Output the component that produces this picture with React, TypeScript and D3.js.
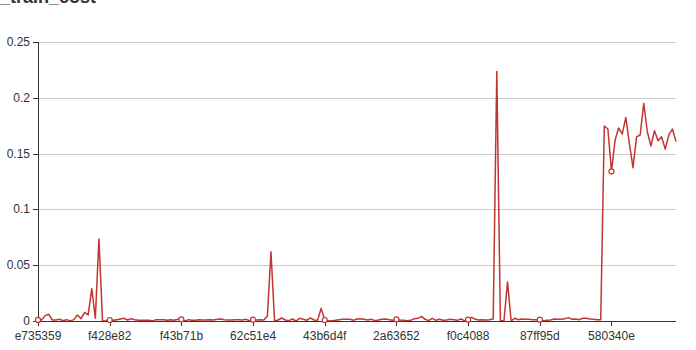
import React from "react";
import * as d3 from "d3";

const titleText = "_train_cost";
const tickLabels = ["e735359", "f428e82", "f43b71b", "62c51e4", "43b6d4f", "2a63652", "f0c4088", "87ff95d", "580340e"];
const labelEvery = 20;
const yTicks = [0, 0.05, 0.1, 0.15, 0.2, 0.25];

const costValues = [
  0.001, 0.0009, 0.0048, 0.006, 0.0009, 0.0009, 0.0015, 0.0003, 0.0012, 0.0001,
  0.0012, 0.0054, 0.0021, 0.0078, 0.0054, 0.029, 0.0024, 0.0735, 0.0, 0.0002,
  0.0009, 0.0006, 0.0012, 0.0018, 0.0024, 0.0009, 0.0021, 0.0012, 0.0006, 0.0006,
  0.0006, 0.0006, 0.0001, 0.0012, 0.0012, 0.0012, 0.0006, 0.0012, 0.0006, 0.0015,
  0.0015, 0.0001, 0.0012, 0.0006, 0.0006, 0.0012, 0.001, 0.0008, 0.0012, 0.0009,
  0.0015, 0.0018, 0.0012, 0.001, 0.0009, 0.0012, 0.0012, 0.0009, 0.0015, 0.0003,
  0.0012, 0.0009, 0.0012, 0.0009, 0.0045, 0.062, 0.0, 0.0009, 0.0027, 0.0009,
  0.0003, 0.0018, 0.0, 0.0024, 0.0015, 0.0006, 0.0027, 0.0009, 0.0006, 0.0113,
  0.0009, 0.0, 0.0003, 0.0006, 0.0012, 0.0015, 0.0015, 0.0015, 0.0006, 0.0018,
  0.0021, 0.0015, 0.0009, 0.0015, 0.0003, 0.0009, 0.0015, 0.0018, 0.0012, 0.0006,
  0.0015, 0.0009, 0.0006, 0.0003, 0.0006, 0.0021, 0.0024, 0.0042, 0.0015, 0.0003,
  0.0024, 0.0006, 0.0015, 0.0006, 0.0009, 0.0015, 0.0012, 0.0006, 0.0018, 0.0003,
  0.0012, 0.0033, 0.0015, 0.0009, 0.0012, 0.0009, 0.0012, 0.0018, 0.2235, 0.0005,
  0.0, 0.035, 0.0, 0.0024, 0.0012, 0.0018, 0.0015, 0.0015, 0.0012, 0.0012,
  0.0012, 0.0003, 0.0006, 0.0009, 0.0018, 0.0015, 0.0015, 0.0021, 0.003, 0.0015,
  0.0018, 0.0012, 0.0024, 0.0024, 0.0018, 0.0015, 0.0012, 0.0012, 0.1747, 0.172,
  0.134, 0.162, 0.173, 0.1675, 0.1825, 0.159, 0.1374, 0.165, 0.1667, 0.195,
  0.1696, 0.1568, 0.1705, 0.1616, 0.165, 0.154, 0.1667, 0.172, 0.1607,
];

const W = 696;
const H = 350;
const M = { left: 38, right: 20, top: 42, bottom: 29 };
const RED = "#c23531";
const FONT = "'Liberation Sans', Arial, Helvetica, sans-serif";

export default function App() {
  const idx = costValues.map((_, i) => i);
  const x = d3.scalePoint<number>().domain(idx).range([M.left, W - M.right]);
  const y = d3.scaleLinear().domain([0, 0.25]).range([H - M.bottom, M.top]);
  const line = d3
    .line<number>()
    .x((_, i) => x(i) as number)
    .y((d) => y(d));
  const tickIdx = tickLabels.map((_, k) => k * labelEvery);
  const y0 = y(0);

  return (
    <svg
      width={W}
      height={H}
      style={{ position: "fixed", left: 0, top: 0, background: "#fff" }}
      fontFamily={FONT}
    >
      <text x={0} y={3} fontSize={18} fontWeight="bold" fill="#333">
        {titleText}
      </text>
      {yTicks.slice(1).map((t) => (
        <line key={"g" + t} x1={M.left} x2={W - M.right} y1={Math.round(y(t)) + 0.5} y2={Math.round(y(t)) + 0.5} stroke="#ccc" strokeWidth={1} />
      ))}
      <line x1={M.left + 0.5} x2={M.left + 0.5} y1={M.top} y2={y0} stroke="#333" strokeWidth={1} />
      {yTicks.map((t) => (
        <g key={"y" + t}>
          <line x1={M.left - 5} x2={M.left} y1={Math.round(y(t)) + 0.5} y2={Math.round(y(t)) + 0.5} stroke="#333" />
          <text x={M.left - 8} y={y(t) + 4} fontSize={12} textAnchor="end" fill="#333">
            {String(t)}
          </text>
        </g>
      ))}
      <path d={line(costValues) || ""} fill="none" stroke={RED} strokeWidth={1.5} strokeLinejoin="round" />
      <line x1={M.left} x2={W - M.right} y1={Math.round(y0) + 0.5} y2={Math.round(y0) + 0.5} stroke="#333" strokeWidth={1} />
      {tickIdx.map((i, k) => (
        <g key={"x" + k}>
          <line x1={Math.round(x(i) as number) + 0.5} x2={Math.round(x(i) as number) + 0.5} y1={y0} y2={y0 + 5} stroke="#333" />
          <text x={x(i) as number} y={y0 + 19} fontSize={12} textAnchor="middle" fill="#333">
            {tickLabels[k]}
          </text>
        </g>
      ))}
      {tickIdx.map((i) => (
        <circle key={"c" + i} cx={x(i) as number} cy={y(costValues[i])} r={2.5} fill="#fff" stroke={RED} strokeWidth={1.2} />
      ))}
    </svg>
  );
}
